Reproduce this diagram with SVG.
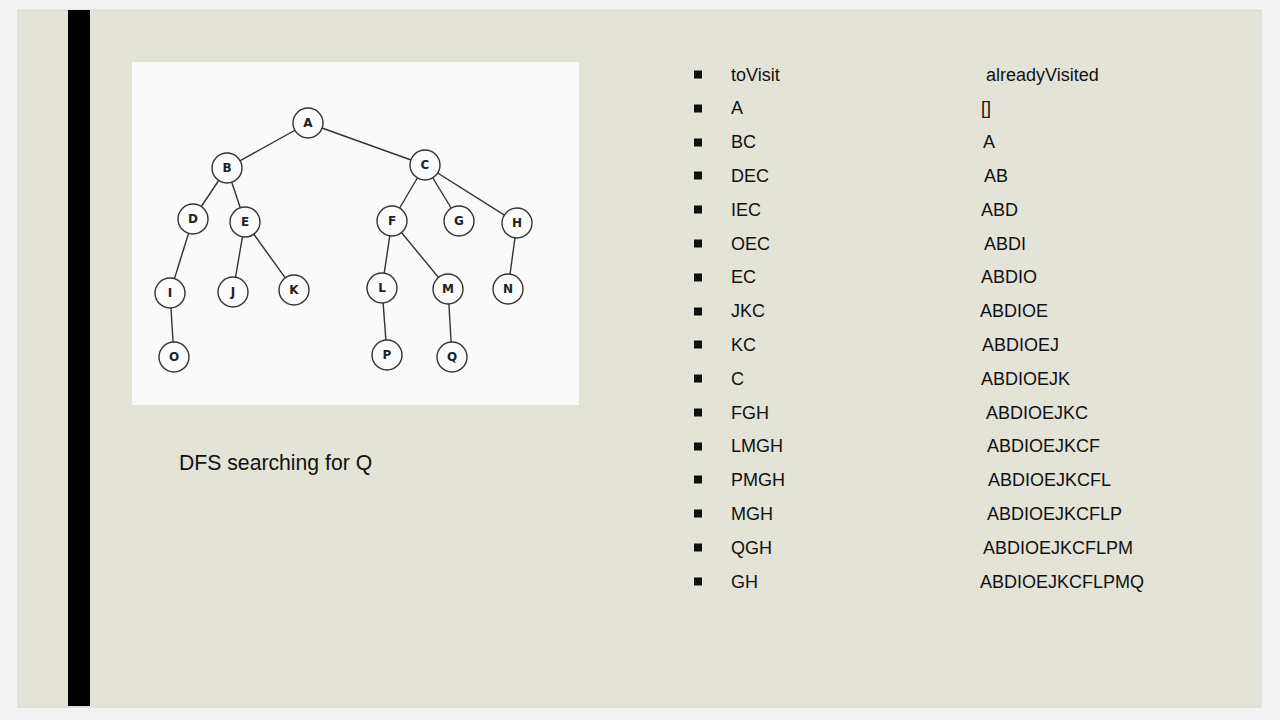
<svg xmlns="http://www.w3.org/2000/svg" width="1280" height="720" viewBox="0 0 1280 720">
<style>
.edge{stroke:#333;stroke-width:1.4;fill:none}
.node circle{fill:#fbfbfb;stroke:#333;stroke-width:1.4}
.node text{font-family:"DejaVu Sans",sans-serif;font-size:12px;font-weight:bold;fill:#222;text-anchor:middle;dominant-baseline:central}
.col{font-family:"Liberation Sans",Arial,sans-serif;font-size:18px;fill:#111}
.bul{fill:#111}
</style>
<rect x="0" y="0" width="1280" height="720" fill="#f3f3f3"/>
<rect x="18" y="10" width="1243" height="697" fill="#e4e3d8" stroke="#d4d4d4" stroke-width="1"/>
<rect x="68" y="10" width="22" height="696" fill="#000"/>
<rect x="132" y="62" width="447" height="343" fill="#fafafa"/>
<g id="connectors">
<line class="edge" x1="308" y1="123" x2="227" y2="168"/>
<line class="edge" x1="308" y1="123" x2="425" y2="165"/>
<line class="edge" x1="227" y1="168" x2="193" y2="219"/>
<line class="edge" x1="227" y1="168" x2="245" y2="222"/>
<line class="edge" x1="193" y1="219" x2="170" y2="293"/>
<line class="edge" x1="170" y1="293" x2="174" y2="357"/>
<line class="edge" x1="245" y1="222" x2="233" y2="292"/>
<line class="edge" x1="245" y1="222" x2="294" y2="290"/>
<line class="edge" x1="425" y1="165" x2="392" y2="221"/>
<line class="edge" x1="425" y1="165" x2="459" y2="221"/>
<line class="edge" x1="425" y1="165" x2="517" y2="223"/>
<line class="edge" x1="392" y1="221" x2="382" y2="288"/>
<line class="edge" x1="392" y1="221" x2="448" y2="289"/>
<line class="edge" x1="382" y1="288" x2="387" y2="355"/>
<line class="edge" x1="448" y1="289" x2="452" y2="357"/>
<line class="edge" x1="517" y1="223" x2="508" y2="289"/>
</g>
<g id="nA" class="node"><circle cx="308" cy="123" r="15"/><text x="308" y="123">A</text></g>
<g id="nB" class="node"><circle cx="227" cy="168" r="15"/><text x="227" y="168">B</text></g>
<g id="nC" class="node"><circle cx="425" cy="165" r="15"/><text x="425" y="165">C</text></g>
<g id="nD" class="node"><circle cx="193" cy="219" r="15"/><text x="193" y="219">D</text></g>
<g id="nE" class="node"><circle cx="245" cy="222" r="15"/><text x="245" y="222">E</text></g>
<g id="nF" class="node"><circle cx="392" cy="221" r="15"/><text x="392" y="221">F</text></g>
<g id="nG" class="node"><circle cx="459" cy="221" r="15"/><text x="459" y="221">G</text></g>
<g id="nH" class="node"><circle cx="517" cy="223" r="15"/><text x="517" y="223">H</text></g>
<g id="nI" class="node"><circle cx="170" cy="293" r="15"/><text x="170" y="293">I</text></g>
<g id="nJ" class="node"><circle cx="233" cy="292" r="15"/><text x="233" y="292">J</text></g>
<g id="nK" class="node"><circle cx="294" cy="290" r="15"/><text x="294" y="290">K</text></g>
<g id="nL" class="node"><circle cx="382" cy="288" r="15"/><text x="382" y="288">L</text></g>
<g id="nM" class="node"><circle cx="448" cy="289" r="15"/><text x="448" y="289">M</text></g>
<g id="nN" class="node"><circle cx="508" cy="289" r="15"/><text x="508" y="289">N</text></g>
<g id="nO" class="node"><circle cx="174" cy="357" r="15"/><text x="174" y="357">O</text></g>
<g id="nP" class="node"><circle cx="387" cy="355" r="15"/><text x="387" y="355">P</text></g>
<g id="nQ" class="node"><circle cx="452" cy="357" r="15"/><text x="452" y="357">Q</text></g>
<text x="179" y="470" font-family="Liberation Sans, Arial, sans-serif" font-size="21.2" fill="#111">DFS searching for Q</text>
<g id="bullets" class="bul">
<rect x="694" y="70.5" width="8" height="8"/>
<rect x="694" y="104.5" width="8" height="8"/>
<rect x="694" y="138.5" width="8" height="8"/>
<rect x="694" y="171.5" width="8" height="8"/>
<rect x="694" y="205.5" width="8" height="8"/>
<rect x="694" y="239.5" width="8" height="8"/>
<rect x="694" y="273.5" width="8" height="8"/>
<rect x="694" y="307.5" width="8" height="8"/>
<rect x="694" y="340.5" width="8" height="8"/>
<rect x="694" y="374.5" width="8" height="8"/>
<rect x="694" y="408.5" width="8" height="8"/>
<rect x="694" y="442.5" width="8" height="8"/>
<rect x="694" y="475.5" width="8" height="8"/>
<rect x="694" y="509.5" width="8" height="8"/>
<rect x="694" y="543.5" width="8" height="8"/>
<rect x="694" y="577.5" width="8" height="8"/>
</g>
<g id="toVisit" class="col">
<text x="731" y="80.5">toVisit</text>
<text x="731" y="114.3">A</text>
<text x="731" y="148.1">BC</text>
<text x="731" y="181.9">DEC</text>
<text x="731" y="215.7">IEC</text>
<text x="731" y="249.5">OEC</text>
<text x="731" y="283.3">EC</text>
<text x="731" y="317.1">JKC</text>
<text x="731" y="350.9">KC</text>
<text x="731" y="384.7">C</text>
<text x="731" y="418.5">FGH</text>
<text x="731" y="452.3">LMGH</text>
<text x="731" y="486.1">PMGH</text>
<text x="731" y="519.9">MGH</text>
<text x="731" y="553.7">QGH</text>
<text x="731" y="587.5">GH</text>
</g>
<g id="alreadyVisited" class="col">
<text x="986" y="80.5">alreadyVisited</text>
<text x="981" y="114.3">[]</text>
<text x="983" y="148.1">A</text>
<text x="984" y="181.9">AB</text>
<text x="981" y="215.7">ABD</text>
<text x="984" y="249.5">ABDI</text>
<text x="981" y="283.3">ABDIO</text>
<text x="980" y="317.1">ABDIOE</text>
<text x="982" y="350.9">ABDIOEJ</text>
<text x="981" y="384.7">ABDIOEJK</text>
<text x="986" y="418.5">ABDIOEJKC</text>
<text x="987" y="452.3">ABDIOEJKCF</text>
<text x="988" y="486.1">ABDIOEJKCFL</text>
<text x="987" y="519.9">ABDIOEJKCFLP</text>
<text x="983" y="553.7">ABDIOEJKCFLPM</text>
<text x="980" y="587.5">ABDIOEJKCFLPMQ</text>
</g>
</svg>
